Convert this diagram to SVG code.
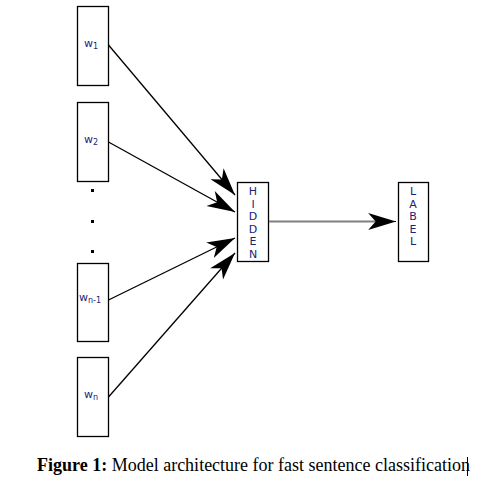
<svg xmlns="http://www.w3.org/2000/svg" width="481" height="481" viewBox="0 0 481 481">
<defs>
<style>
.box{fill:#fff;stroke:#000;stroke-width:1.3}
.t{font-family:"DejaVu Sans",Verdana,sans-serif;font-size:11px;fill:#15267a}
.sub{font-size:8px}
.v{font-family:"DejaVu Sans",Verdana,sans-serif;font-size:11px;fill:#15267a;text-anchor:middle}
.edge{stroke:#000;stroke-width:1.3;fill:none}
.cap{font-family:"Liberation Serif","Times New Roman",serif;font-size:18px;fill:#000}
</style>
<marker id="ah" markerUnits="userSpaceOnUse" markerWidth="30" markerHeight="20" viewBox="-26 -9 28 18" refX="0" refY="0" orient="auto">
<path d="M0,0 L-26,-8 L-19,0 L-26,8 Z" fill="#000"/>
</marker>
</defs>
<rect width="481" height="481" fill="#fff"/>
<g id="w1"><rect class="box" x="77.5" y="6.5" width="31" height="79"/><text class="t" x="84" y="47">w<tspan class="sub" dy="2">1</tspan></text></g>
<g id="w2"><rect class="box" x="77.5" y="102.5" width="31" height="79"/><text class="t" x="84" y="143">w<tspan class="sub" dy="2">2</tspan></text></g>
<g id="dots"><rect x="91" y="189" width="3" height="3" fill="#000"/><rect x="91" y="220" width="3" height="3" fill="#000"/><rect x="91" y="250" width="3" height="3" fill="#000"/></g>
<g id="wn-1"><rect class="box" x="77.5" y="263.5" width="31" height="78"/><text class="t" x="79" y="301">w<tspan class="sub" dy="2">n-1</tspan></text></g>
<g id="wn"><rect class="box" x="77.5" y="357.5" width="31" height="79"/><text class="t" x="84" y="398">w<tspan class="sub" dy="2">n</tspan></text></g>
<g id="hidden"><rect class="box" x="237.5" y="182.5" width="31" height="79"/>
<text class="v" x="253" y="195">H</text><text class="v" x="253" y="207.5">I</text><text class="v" x="253" y="220">D</text><text class="v" x="253" y="232.5">D</text><text class="v" x="253" y="245">E</text><text class="v" x="253" y="257.5">N</text></g>
<g id="label"><rect class="box" x="398.5" y="182.5" width="30" height="79"/>
<text class="v" x="413" y="195">L</text><text class="v" x="413" y="207.5">A</text><text class="v" x="413" y="220">B</text><text class="v" x="413" y="232.5">E</text><text class="v" x="413" y="245">L</text></g>
<g id="connectors">
<line class="edge" x1="108.5" y1="45" x2="235" y2="195" marker-end="url(#ah)"/>
<line class="edge" x1="108.5" y1="142" x2="235" y2="212" marker-end="url(#ah)"/>
<line class="edge" x1="108.5" y1="300" x2="235" y2="238" marker-end="url(#ah)"/>
<line class="edge" x1="108.5" y1="397" x2="235" y2="253" marker-end="url(#ah)"/>
<line x1="269" y1="221.5" x2="380" y2="221.5" stroke="#808080" stroke-width="2"/>
<line x1="378" y1="221.5" x2="396" y2="221.5" stroke="#000" stroke-width="1" marker-end="url(#ah)"/>
</g>
<text class="cap" x="37" y="471"><tspan font-weight="bold">Figure 1:</tspan> Model architecture for fast sentence classification</text>
<line x1="467.5" y1="457" x2="467.5" y2="476" stroke="#000" stroke-width="1"/>
</svg>
